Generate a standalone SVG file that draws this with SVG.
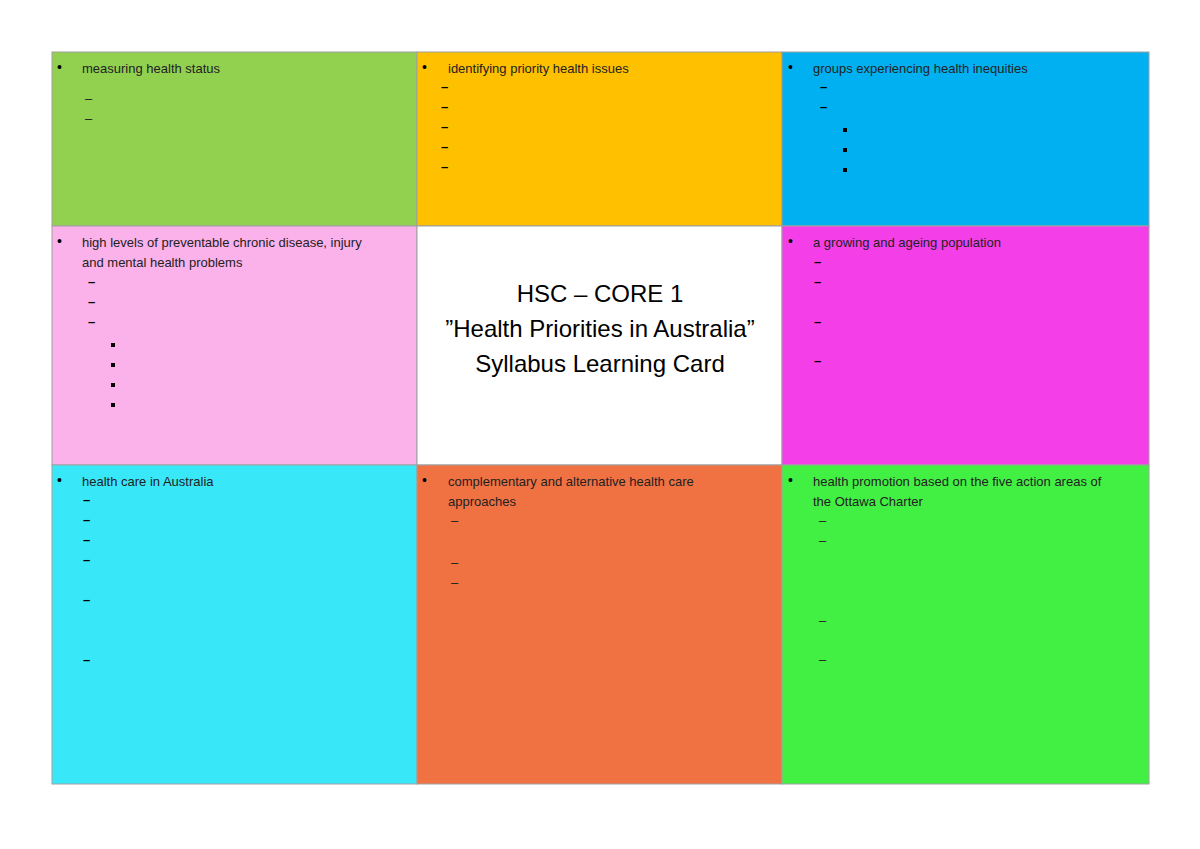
<svg xmlns="http://www.w3.org/2000/svg" width="1200" height="849" viewBox="0 0 1200 849">
<style>
.c{stroke:#a0a0a0;stroke-width:1}
text{font-family:"Liberation Sans",Arial,sans-serif;font-size:13px;fill:#222}
.b{font-size:14px;fill:#000}
.d{font-weight:bold;fill:#000}
.t{font-size:24px;text-anchor:middle;fill:#000}
</style>
<rect width="1200" height="849" fill="#fff"/>
<g id="n1"><rect class="c" x="52" y="52" width="365" height="174" fill="#92D050"/>
<text class="b" x="57" y="72">•</text><text x="82" y="73">measuring health status</text>
<text x="85" y="103">–</text><text x="85" y="123">–</text></g>
<g id="n2"><rect class="c" x="417" y="52" width="365" height="174" fill="#FFC000"/>
<text class="b" x="422" y="72">•</text><text x="448" y="73">identifying priority health issues</text>
<text class="d" x="441" y="91">–</text><text class="d" x="441" y="111">–</text><text class="d" x="441" y="131">–</text><text class="d" x="441" y="151">–</text><text class="d" x="441" y="171">–</text></g>
<g id="n3"><rect class="c" x="782" y="52" width="367" height="174" fill="#00B0F0"/>
<text class="b" x="788" y="72">•</text><text x="813" y="73">groups experiencing health inequities</text>
<text class="d" x="820" y="91">–</text><text class="d" x="820" y="111">–</text>
<rect x="843" y="128" width="4" height="4"/><rect x="843" y="148" width="4" height="4"/><rect x="843" y="168" width="4" height="4"/></g>
<g id="n4"><rect class="c" x="52" y="226" width="365" height="239" fill="#FBB1EA"/>
<text class="b" x="57" y="246">•</text><text x="82" y="247">high levels of preventable chronic disease, injury</text><text x="82" y="267">and mental health problems</text>
<text class="d" x="88" y="286">–</text><text class="d" x="88" y="306">–</text><text class="d" x="88" y="326">–</text>
<rect x="111" y="343" width="4" height="4"/><rect x="111" y="363" width="4" height="4"/><rect x="111" y="383" width="4" height="4"/><rect x="111" y="403" width="4" height="4"/></g>
<g id="n5"><rect class="c" x="417" y="226" width="365" height="239" fill="#fff"/>
<text class="t" x="600" y="302">HSC – CORE 1</text>
<text class="t" x="600" y="337">”Health Priorities in Australia”</text>
<text class="t" x="600" y="372">Syllabus Learning Card</text></g>
<g id="n6"><rect class="c" x="782" y="226" width="367" height="239" fill="#F43FE8"/>
<text class="b" x="788" y="246">•</text><text x="813" y="247">a growing and ageing population</text>
<text class="d" x="814" y="266">–</text><text class="d" x="814" y="286">–</text><text class="d" x="814" y="326">–</text><text class="d" x="814" y="365">–</text></g>
<g id="n7"><rect class="c" x="52" y="465" width="365" height="319" fill="#38E8F8"/>
<text class="b" x="57" y="485">•</text><text x="82" y="486">health care in Australia</text>
<text class="d" x="83" y="504">–</text><text class="d" x="83" y="524">–</text><text class="d" x="83" y="544">–</text><text class="d" x="83" y="564">–</text><text class="d" x="83" y="604">–</text><text class="d" x="83" y="664">–</text></g>
<g id="n8"><rect class="c" x="417" y="465" width="365" height="319" fill="#F07142"/>
<text class="b" x="422" y="485">•</text><text x="448" y="486">complementary and alternative health care</text><text x="448" y="506">approaches</text>
<text x="451" y="525">–</text><text x="451" y="567">–</text><text x="451" y="587">–</text></g>
<g id="n9"><rect class="c" x="782" y="465" width="367" height="319" fill="#42F044"/>
<text class="b" x="788" y="485">•</text><text x="813" y="486">health promotion based on the five action areas of</text><text x="813" y="506">the Ottawa Charter</text>
<text x="819" y="525">–</text><text x="819" y="545">–</text><text x="819" y="625">–</text><text x="819" y="664">–</text></g>
<g id="connectors"/>
</svg>
